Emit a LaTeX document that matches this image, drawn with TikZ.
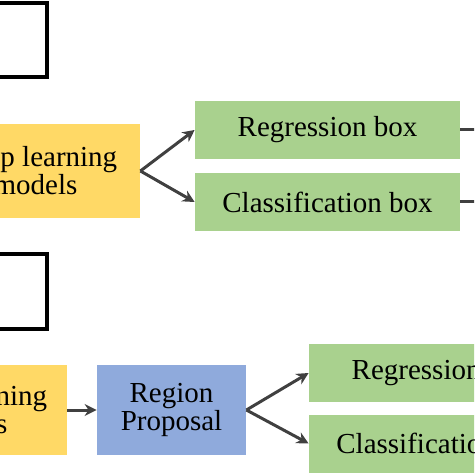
\documentclass[tikz,border=0pt]{standalone}
\usepackage{fontspec}
\setmainfont{Liberation Serif}
\usetikzlibrary{arrows.meta}
\definecolor{learnyellow}{HTML}{FFD966}
\definecolor{boxgreen}{HTML}{A9D18E}
\definecolor{propblue}{HTML}{8FAADC}
\definecolor{arrowgray}{HTML}{404040}
\begin{document}
\begin{tikzpicture}[x=0.5pt,y=-0.5pt,
		font=\fontsize{14.5}{14}\selectfont,
		blk/.style={draw=black,line width=2pt,minimum width=47pt,minimum height=37pt,inner sep=0pt},
		learn/.style={fill=learnyellow,align=center,inner sep=0pt},
		prop/.style={fill=propblue,align=center,inner sep=0pt},
		result/.style={fill=boxgreen,minimum width=132.5pt,minimum height=29pt,inner sep=0pt},
		arr/.style={draw=arrowgray,line width=1.5pt,-{Stealth[length=6pt,width=6pt]}},
		link/.style={draw=arrowgray,line width=1.5pt}]
		\useasboundingbox (0,0) rectangle (474,474);
		\clip (0,0) rectangle (474,474);
		% upper part
		\node[blk] (box1) at (0,40) {};
		\node[learn,minimum width=104.5pt,minimum height=47pt] (deep1) at (35.5,171) {Deep learning\\models};
		\node[result] (reg1) at (327.5,130) {Regression box};
		\node[result] (cls1) at (327.5,202) {Classification box};
		\coordinate (out1) at (490,130);
		\coordinate (out2) at (490,202);
		\draw[arr] (deep1.east) -- (reg1.west);
		\draw[arr] (deep1.east) -- (cls1.west);
		\draw[link] (reg1.east) -- (out1);
		\draw[link] (cls1.east) -- (out2);
		% lower part
		\node[blk,minimum height=37.5pt] (box2) at (0,291.5) {};
		\node[learn,minimum width=101.5pt,minimum height=45pt] (deep2) at (-34.5,410) {Deep learning\\models};
		\node[prop,minimum width=74.5pt,minimum height=45pt] (rp) at (171.5,410) {Region\\Proposal};
		\node[result] (reg2) at (441.5,373) {Regression box};
		\node[result] (cls2) at (441.5,443.5) {Classification box};
		\draw[arr] (deep2.east) -- (rp.west);
		\draw[arr] (rp.east) -- (reg2.west);
		\draw[arr] (rp.east) -- (cls2.west);
\end{tikzpicture}
\end{document}
